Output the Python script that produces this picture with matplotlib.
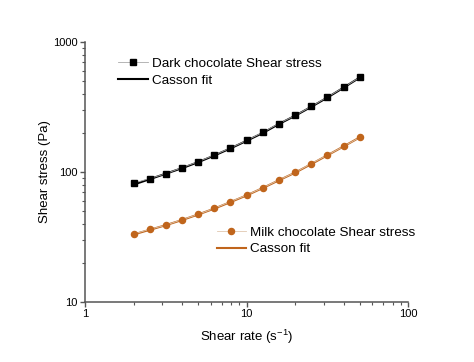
import matplotlib
matplotlib.use("Agg")
import matplotlib.pyplot as plt
import numpy as np

plt.rcParams['font.family'] = ['Liberation Sans', 'DejaVu Sans']
plt.rcParams['mathtext.fontset'] = 'custom'
plt.rcParams['mathtext.rm'] = 'Liberation Sans'

# shear rate (1/s)
shear_rate = [2.0, 2.51, 3.16, 3.98, 5.01, 6.31, 7.94, 10.0, 12.6, 15.8, 20.0, 25.1, 31.6, 39.8, 50.1]

# dark chocolate
dark_stress = [82, 89, 97, 108, 120, 135, 153, 175, 202, 236, 273, 320, 378, 449, 537]
dark_fit = [80, 88, 97, 107, 119, 134, 152, 174, 200, 234, 272, 318, 375, 447, 535]

# milk chocolate
milk_stress = [33.2, 36.1, 38.9, 42.9, 47.1, 52.4, 59.0, 66.3, 75.6, 86.6, 99.3, 115.9, 135, 157.6, 184.9]
milk_fit = [33.0, 35.8, 38.9, 42.6, 47.0, 52.2, 58.6, 66.0, 75.3, 86.2, 99.0, 115.0, 134.5, 157.5, 185.0]

orange = '#c0651c'

fig = plt.figure(figsize=(4.74, 3.62), dpi=100)
ax = fig.add_axes([0.1793, 0.1666, 0.682, 0.7165])

d1, = ax.plot(shear_rate, dark_stress, color='#aaaaaa', lw=0.6, marker='s', ms=3.8,
              mfc='black', mec='black', zorder=3)
d2, = ax.plot(shear_rate, dark_fit, color='black', lw=1.5, zorder=2)
m1, = ax.plot(shear_rate, milk_stress, color='#e0c8b0', lw=0.6, marker='o', ms=4.4,
              mfc=orange, mec=orange, zorder=3)
m2, = ax.plot(shear_rate, milk_fit, color=orange, lw=1.5, zorder=2)

ax.set_xscale('log')
ax.set_yscale('log')
ax.set_xlim(1, 100)
ax.set_ylim(10, 1000)

ax.set_xticks([1, 10, 100])
ax.set_xticklabels(['1', '10', '100'])
ax.set_yticks([10, 100, 1000])
ax.set_yticklabels(['10', '100', '1000'])

for s in ['top', 'right']:
    ax.spines[s].set_visible(False)
for s in ['left', 'bottom']:
    ax.spines[s].set_color('#555555')
    ax.spines[s].set_linewidth(1.1)

ax.tick_params(which='major', direction='out', length=3.5, width=1, color='#555555',
               labelsize=8, pad=2)
ax.tick_params(which='minor', direction='out', length=2, width=0.8, color='#555555')

ax.set_xlabel('Shear rate (s$^{-1}$)', fontsize=9.5, labelpad=6)
ax.set_ylabel('Shear stress (Pa)', fontsize=9.5, labelpad=1)

leg_kw = dict(loc='upper left', frameon=False, fontsize=9.7, handlelength=2.2,
              handletextpad=0.3, labelspacing=0.32, borderaxespad=0, borderpad=0)
leg1 = ax.legend([d1, d2], ['Dark chocolate Shear stress', 'Casson fit'],
                 bbox_to_anchor=(0.102, 0.941), **leg_kw)
ax.add_artist(leg1)
ax.legend([m1, m2], ['Milk chocolate Shear stress', 'Casson fit'],
          bbox_to_anchor=(0.407, 0.291), **leg_kw)

fig.savefig('out.png', dpi=100)
